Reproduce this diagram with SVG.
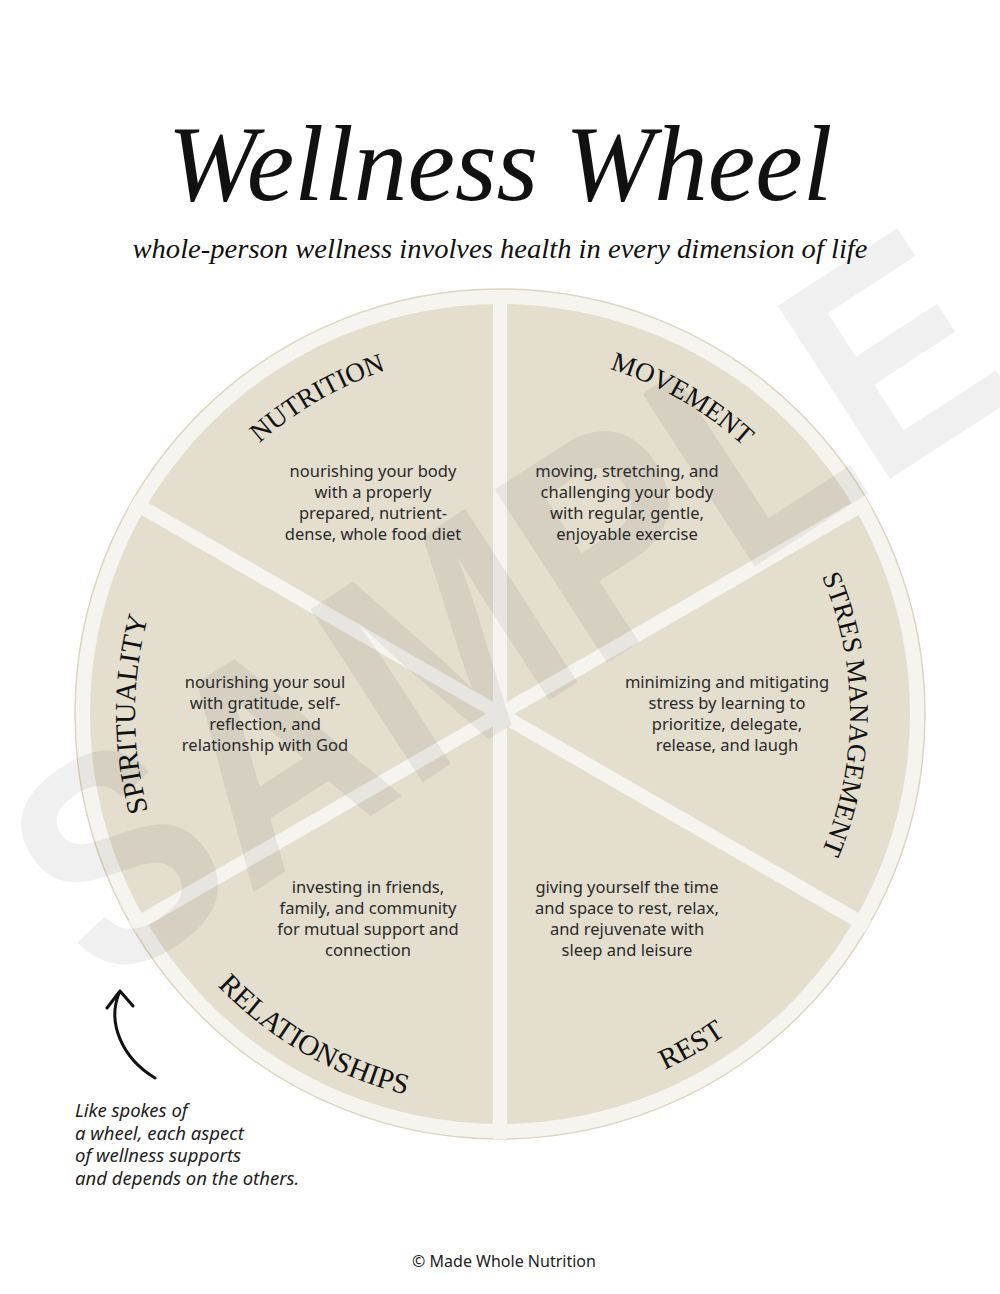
<svg xmlns="http://www.w3.org/2000/svg" width="1000" height="1294" viewBox="0 0 1000 1294">
<style>
.lbl{font-family:"Liberation Serif",serif;font-size:27px;fill:#111}
.big{font-size:29px}
.desc{font-family:"Noto Sans","Liberation Sans",sans-serif;font-size:16.5px;fill:#2a2a2a;text-anchor:middle}
.spoke{stroke:#f5f4ef;stroke-width:14}
</style>
<defs>
<path id="pN" d="M143.5,651 A362,362 0 0 1 623.8,373.7"/>
<path id="pM" d="M376.2,373.7 A362,362 0 0 1 856.5,651"/>
<path id="pS" d="M725,446 A350,350 0 0 1 725,982"/>
<path id="pSp" d="M265.4,993.6 A365,365 0 0 1 265.4,434.4"/>
<path id="pR" d="M365.9,1082.5 A392,392 0 0 0 886.1,782.1"/>
<path id="pRel" d="M114,782.1 A392,392 0 0 0 634.1,1082.5"/>
</defs>
<rect width="1000" height="1294" fill="#ffffff"/>
<text x="500" y="200" text-anchor="middle" font-family="Liberation Serif,serif" font-style="italic" font-size="108" fill="#111" textLength="665" lengthAdjust="spacingAndGlyphs">Wellness Wheel</text>
<text x="500" y="258" text-anchor="middle" font-family="Liberation Serif,serif" font-style="italic" font-size="28" fill="#111" textLength="735" lengthAdjust="spacingAndGlyphs">whole-person wellness involves health in every dimension of life</text>
<g id="wheel">
<circle cx="500" cy="714" r="425" fill="#f5f4ef" stroke="#ddd5c2" stroke-width="1.5"/>
<circle cx="500" cy="714" r="410" fill="#e3dece"/>
</g>
<g id="spokes">
<line class="spoke" x1="500" y1="290" x2="500" y2="1139"/>
<line class="spoke" x1="132" y1="501.5" x2="868" y2="926.5"/>
<line class="spoke" x1="132" y1="926.5" x2="868" y2="501.5"/>
</g>
<g id="watermark">
<text transform="translate(505,605) rotate(-33)" text-anchor="middle" dominant-baseline="central" font-family="Liberation Sans,sans-serif" font-weight="bold" font-size="300" fill="#000" fill-opacity="0.06" textLength="1100" lengthAdjust="spacingAndGlyphs">SAMPLE</text>
</g>
<g id="nutrition">
<text class="lbl"><textPath href="#pN" startOffset="50%" text-anchor="middle">NUTRITION</textPath></text>
<text class="desc"><tspan x="373" y="477">nourishing your body</tspan><tspan x="373" y="498">with a properly</tspan><tspan x="373" y="519">prepared, nutrient-</tspan><tspan x="373" y="540">dense, whole food diet</tspan></text>
</g>
<g id="movement">
<text class="lbl"><textPath href="#pM" startOffset="50%" text-anchor="middle">MOVEMENT</textPath></text>
<text class="desc"><tspan x="627" y="477">moving, stretching, and</tspan><tspan x="627" y="498">challenging your body</tspan><tspan x="627" y="519">with regular, gentle,</tspan><tspan x="627" y="540">enjoyable exercise</tspan></text>
</g>
<g id="stress">
<text class="lbl"><textPath href="#pS" startOffset="50%" text-anchor="middle">STRES MANAGEMENT</textPath></text>
<text class="desc"><tspan x="727" y="688">minimizing and mitigating</tspan><tspan x="727" y="709">stress by learning to</tspan><tspan x="727" y="730">prioritize, delegate,</tspan><tspan x="727" y="751">release, and laugh</tspan></text>
</g>
<g id="rest">
<text class="lbl big"><textPath href="#pR" startOffset="50%" text-anchor="middle">REST</textPath></text>
<text class="desc"><tspan x="627" y="893">giving yourself the time</tspan><tspan x="627" y="914">and space to rest, relax,</tspan><tspan x="627" y="935">and rejuvenate with</tspan><tspan x="627" y="956">sleep and leisure</tspan></text>
</g>
<g id="relationships">
<text class="lbl big"><textPath href="#pRel" startOffset="50%" text-anchor="middle">RELATIONSHIPS</textPath></text>
<text class="desc"><tspan x="368" y="893">investing in friends,</tspan><tspan x="368" y="914">family, and community</tspan><tspan x="368" y="935">for mutual support and</tspan><tspan x="368" y="956">connection</tspan></text>
</g>
<g id="spirituality">
<text class="lbl big"><textPath href="#pSp" startOffset="50%" text-anchor="middle">SPIRITUALITY</textPath></text>
<text class="desc"><tspan x="265" y="688">nourishing your soul</tspan><tspan x="265" y="709">with gratitude, self-</tspan><tspan x="265" y="730">reflection, and</tspan><tspan x="265" y="751">relationship with God</tspan></text>
</g>
<g id="note">
<path d="M155,1078 C122,1058 106,1022 120,991 M107,1008 L120,991 L133,1006" fill="none" stroke="#111" stroke-width="3" stroke-linecap="round" stroke-linejoin="round"/>
<text font-family="Noto Sans,Liberation Sans,sans-serif" font-style="italic" font-size="18.5" fill="#222"><tspan x="75" y="1117">Like spokes of</tspan><tspan x="75" y="1140">a wheel, each aspect</tspan><tspan x="75" y="1162">of wellness supports</tspan><tspan x="75" y="1185">and depends on the others.</tspan></text>
</g>
<text x="504" y="1267" text-anchor="middle" font-family="Noto Sans,Liberation Sans,sans-serif" font-size="16" fill="#222">© Made Whole Nutrition</text>
</svg>
